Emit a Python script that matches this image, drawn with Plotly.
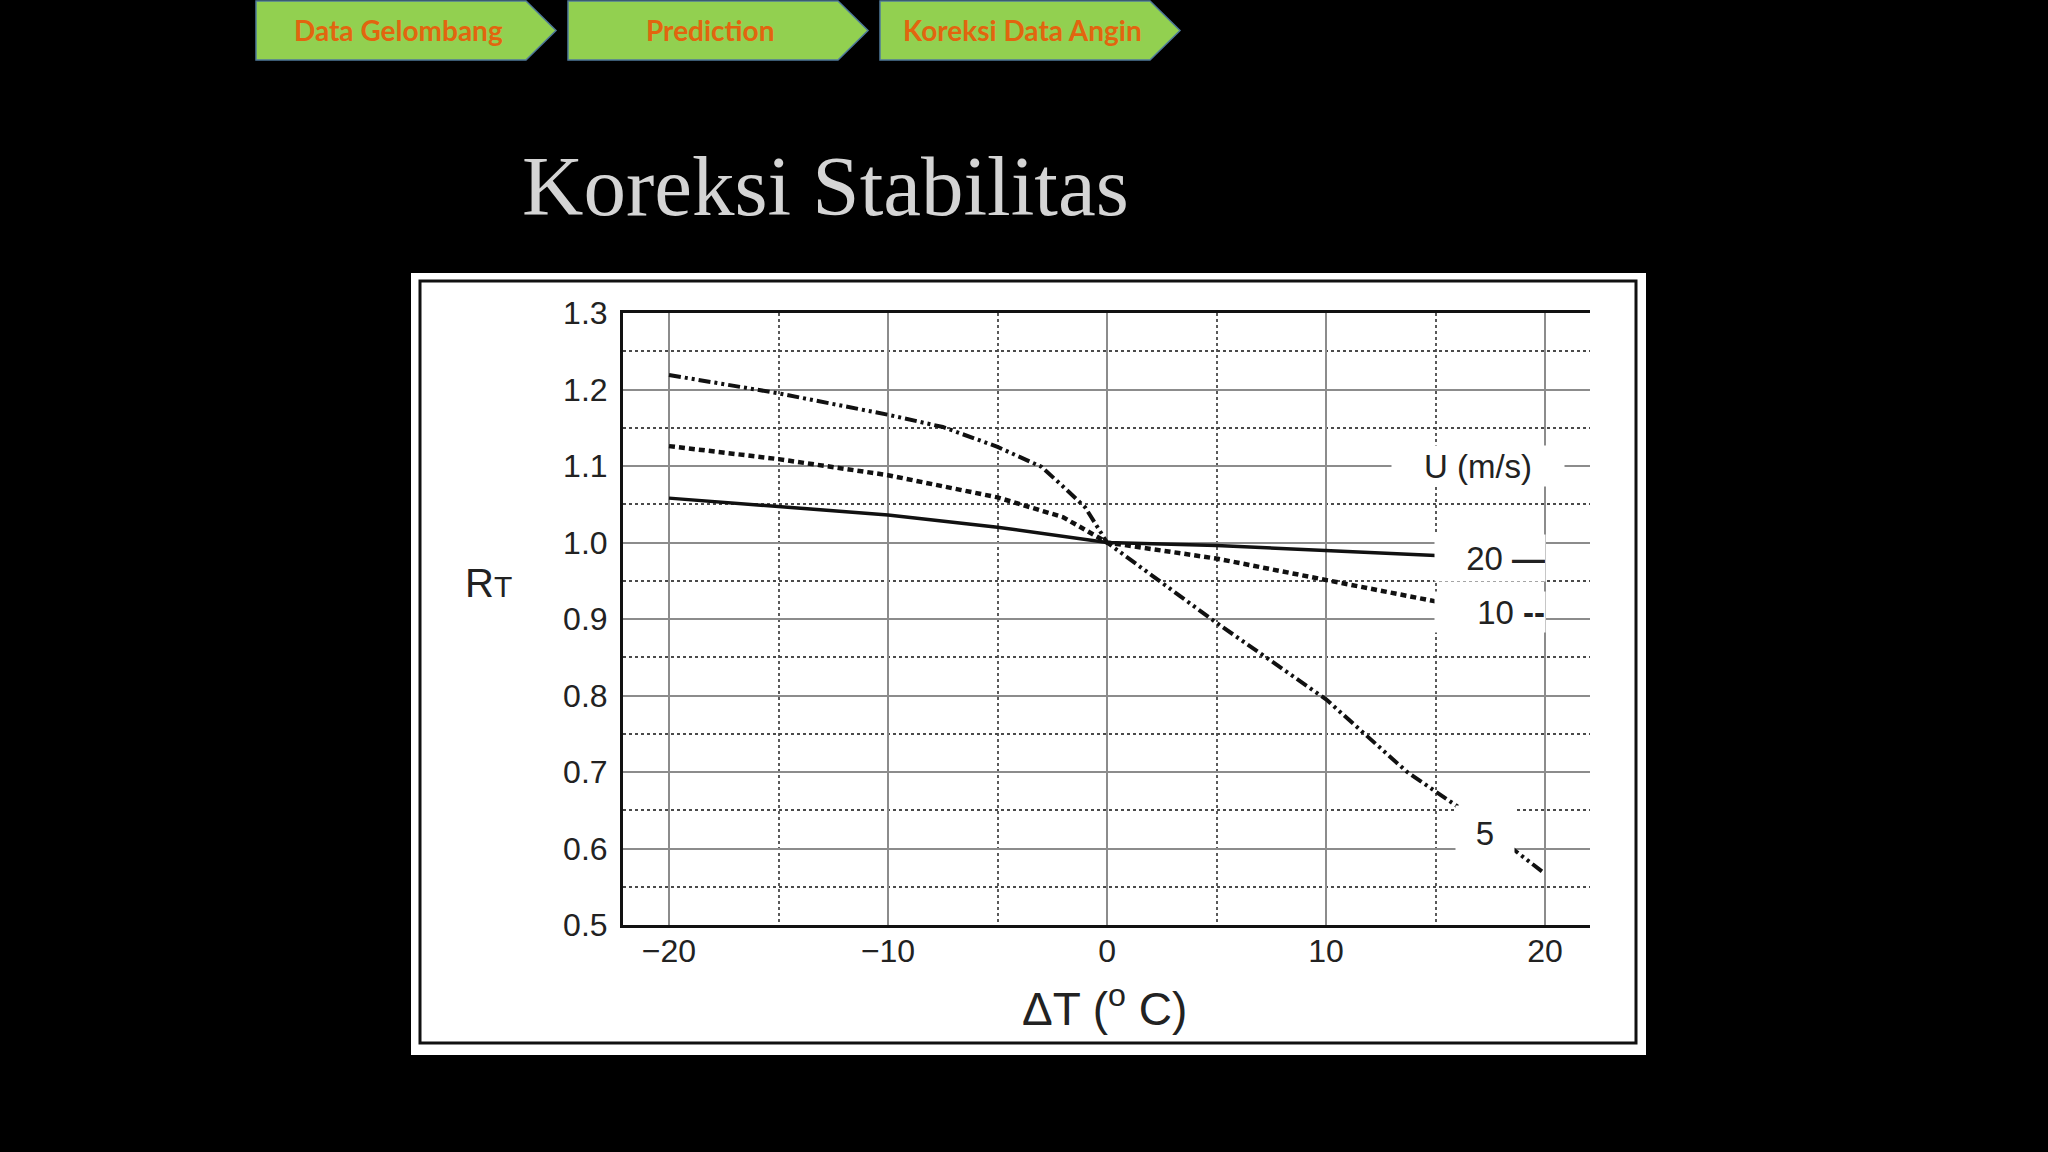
import plotly.graph_objects as go

W, H = 2048, 1152

# ---------------- data ----------------
dT_20 = [-20, -15, -10, -5, 0, 5, 10, 15]
RT_20 = [1.058, 1.047, 1.036, 1.020, 1.0, 0.996, 0.989, 0.983]

dT_10 = [-20, -15, -10, -5, -2, 0, 5, 10, 15]
RT_10 = [1.126, 1.109, 1.088, 1.059, 1.033, 1.0, 0.979, 0.951, 0.923]

dT_5 = [-20, -15, -10, -7.5, -5, -3, -2, -1, 0, 5, 10, 13.7, 16, 18.6, 20]
RT_5 = [1.219, 1.195, 1.167, 1.151, 1.125, 1.099, 1.073, 1.046, 1.0,
        0.895, 0.795, 0.70, 0.655, 0.598, 0.567]

x_ticks = [-20, -10, 0, 10, 20]
x_ticktext = ["\u221220", "\u221210", "0", "10", "20"]
x_minor = [-15, -5, 5, 15]
y_ticks = [0.5, 0.6, 0.7, 0.8, 0.9, 1.0, 1.1, 1.2, 1.3]
y_ticktext = ["0.5", "0.6", "0.7", "0.8", "0.9", "1.0", "1.1", "1.2", "1.3"]
y_minor = [0.55, 0.65, 0.75, 0.85, 0.95, 1.05, 1.15, 1.25]

nav_labels = ["Data Gelombang", "Prediction", "Koreksi Data Angin"]
title_text = "Koreksi Stabilitas"


def px(x):
    return x / W


def py(y):
    return 1 - y / H


fig = go.Figure()

fig.add_trace(go.Scatter(x=dT_20, y=RT_20, mode="lines", name="20",
                         line=dict(color="#111", width=3.5)))
fig.add_trace(go.Scatter(x=dT_10, y=RT_10, mode="lines", name="10",
                         line=dict(color="#111", width=4.5, dash="6px,4px")))
fig.add_trace(go.Scatter(x=dT_5, y=RT_5, mode="lines", name="5",
                         line=dict(color="#111", width=4,
                                   dash="12px,4px,3px,4px,3px,4px")))

shapes = []
# white figure box + inner black frame
shapes.append(dict(type="rect", xref="paper", yref="paper", layer="below",
                   x0=px(411), x1=px(1646), y0=py(1055), y1=py(273),
                   fillcolor="white", line=dict(width=0)))
shapes.append(dict(type="rect", xref="paper", yref="paper", layer="below",
                   x0=px(420), x1=px(1636), y0=py(1043), y1=py(281),
                   fillcolor="rgba(0,0,0,0)", line=dict(color="#111", width=3)))

# navigation chevrons
arrows = [(256, 526, 556), (568, 838, 868), (880, 1150, 1180)]
text_cx = [398, 710, 1022]
annotations = []
for (l, b, t), lab, cx in zip(arrows, nav_labels, text_cx):
    top, bot, mid = 1, 60, 30.5
    path = (f"M {px(l)},{py(top)} L {px(b)},{py(top)} L {px(t)},{py(mid)} "
            f"L {px(b)},{py(bot)} L {px(l)},{py(bot)} Z")
    shapes.append(dict(type="path", xref="paper", yref="paper", path=path,
                       fillcolor="#92D050", line=dict(color="#4F7A9A", width=1.5)))
    annotations.append(dict(xref="paper", yref="paper", x=px(cx), y=py(30),
                            text=f"<b>{lab}</b>", showarrow=False,
                            xanchor="center", yanchor="middle",
                            font=dict(family="Lato", size=28, color="#E2650F")))

# title
annotations.append(dict(xref="paper", yref="paper", x=px(825), y=py(186),
                        text=title_text, showarrow=False,
                        xanchor="center", yanchor="middle",
                        font=dict(family="Liberation Serif", size=85, color="#D4D4D4")))

lab_font = dict(family="Liberation Sans", size=33, color="#222")

# legend-like labels inside the plot (white boxes over grid)
annotations.append(dict(xref="paper", yref="paper", x=px(1478), y=py(466),
                        text="U (m/s)", showarrow=False, xanchor="center",
                        yanchor="middle", width=172, height=40, bgcolor="white",
                        borderpad=0, font=lab_font))
annotations.append(dict(xref="paper", yref="paper", x=px(1546), y=py(558),
                        text="20 <b>\u2014</b>", showarrow=False, xanchor="right",
                        yanchor="middle", align="right", width=110, height=46,
                        bgcolor="white", borderpad=0, font=lab_font))
annotations.append(dict(xref="paper", yref="paper", x=px(1546), y=py(612),
                        text="10 <b>-</b><b>-</b>", showarrow=False, xanchor="right",
                        yanchor="middle", align="right", width=110, height=40,
                        bgcolor="white", borderpad=0, font=lab_font))
annotations.append(dict(xref="paper", yref="paper", x=px(1485), y=py(833),
                        text="5", showarrow=False, xanchor="center",
                        yanchor="middle", width=58, height=54,
                        bgcolor="white", borderpad=0, font=lab_font))

# axis titles
annotations.append(dict(xref="paper", yref="paper", x=px(488), y=py(583),
                        text="R<span style='font-size:30px'>T</span>",
                        showarrow=False, xanchor="center", yanchor="middle",
                        font=dict(family="Liberation Sans", size=40, color="#222")))
annotations.append(dict(xref="paper", yref="paper", x=px(1104), y=py(1006),
                        text="\u0394T (<sup>o</sup> C)",
                        showarrow=False, xanchor="center", yanchor="middle",
                        font=dict(family="Liberation Sans", size=46, color="#222")))

fig.update_layout(
    width=W, height=H,
    autosize=False,
    margin=dict(l=0, r=0, t=0, b=0, pad=0, autoexpand=False),
    paper_bgcolor="black",
    plot_bgcolor="white",
    showlegend=False,
    shapes=shapes,
    annotations=annotations,
    xaxis=dict(
        domain=[px(623), px(1590)],
        range=[-22.1, 22.05],
        automargin=False,
        tickmode="array", tickvals=x_ticks, ticktext=x_ticktext,
        ticks="", ticklabelstandoff=-4,
        tickfont=dict(family="Liberation Sans", size=32, color="#222"),
        showgrid=True, gridcolor="#8c8c8c", gridwidth=2,
        minor=dict(tickmode="array", tickvals=x_minor, showgrid=True,
                   gridcolor="#5a5a5a", gridwidth=2, griddash="dot", ticks=""),
        showline=True, linecolor="#111", linewidth=3, mirror=True,
        zeroline=False, fixedrange=True,
    ),
    yaxis=dict(
        domain=[py(925), py(313)],
        range=[0.5, 1.3],
        automargin=False,
        tickmode="array", tickvals=y_ticks, ticktext=y_ticktext,
        ticks="", ticklabelstandoff=6,
        tickfont=dict(family="Liberation Sans", size=32, color="#222"),
        showgrid=True, gridcolor="#8c8c8c", gridwidth=2,
        minor=dict(tickmode="array", tickvals=y_minor, showgrid=True,
                   gridcolor="#4a4a4a", gridwidth=2, griddash="dot", ticks=""),
        showline=True, linecolor="#111", linewidth=3, mirror=False,
        zeroline=False, fixedrange=True,
    ),
)

fig.write_html("out.html")
